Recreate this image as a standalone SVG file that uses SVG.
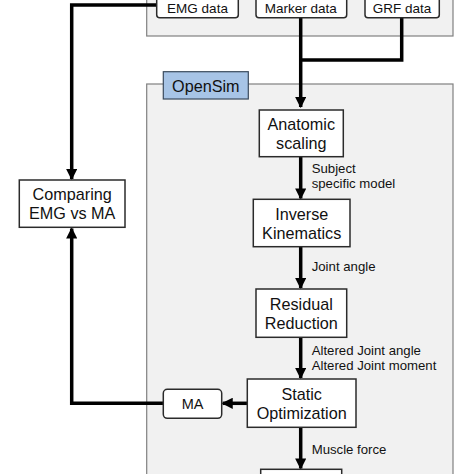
<svg xmlns="http://www.w3.org/2000/svg" width="474" height="474" viewBox="0 0 474 474">
<defs>
<style>
.cont{fill:#f1f1f1;stroke:#808080;stroke-width:1.2}
.box{fill:#ffffff;stroke:#2b2b2b;stroke-width:1.5}
.t{font-family:"Liberation Sans",Arial,sans-serif;font-size:16.2px;fill:#111;text-anchor:middle}
.d{font-family:"Liberation Sans",Arial,sans-serif;font-size:13.5px;fill:#111;text-anchor:middle}
.l{font-family:"Liberation Sans",Arial,sans-serif;font-size:13.2px;fill:#111}
.c{fill:none;stroke:#000;stroke-width:3.5}
</style>
<marker id="ah" viewBox="0 0 10 10" refX="9" refY="5" markerWidth="3.2" markerHeight="3.2" orient="auto" markerUnits="strokeWidth">
<path d="M0,0 L10,5 L0,10 z" fill="#000"/>
</marker>
</defs>
<rect width="474" height="474" fill="#fff"/>
<rect class="cont" x="146.7" y="-10" width="306.3" height="46"/>
<rect class="cont" x="146.7" y="84" width="306.3" height="400"/>
<g id="connectors">
<path class="c" d="M300.7,17.7 V107" marker-end="url(#ah)"/>
<path class="c" d="M401.7,17.7 V60 H300.7"/>
<path class="c" d="M156.7,5 H71.7 V179" marker-end="url(#ah)"/>
<path class="c" d="M163.3,403.3 H71.7 V228.5" marker-end="url(#ah)"/>
<path class="c" d="M300.7,156.7 V198.5" marker-end="url(#ah)"/>
<path class="c" d="M300.7,246.7 V288" marker-end="url(#ah)"/>
<path class="c" d="M300.7,337.3 V378" marker-end="url(#ah)"/>
<path class="c" d="M247.3,403.3 H222.7" marker-end="url(#ah)"/>
<path class="c" d="M300.7,427.3 V468.5" marker-end="url(#ah)"/>
<text class="l" x="311.7" y="173.3">Subject</text>
<text class="l" x="311.7" y="187.8">specific model</text>
<text class="l" x="311.7" y="270.5">Joint angle</text>
<text class="l" x="311.7" y="354.5">Altered Joint angle</text>
<text class="l" x="311.7" y="369.5">Altered Joint moment</text>
<text class="l" x="311.7" y="453.8">Muscle force</text>
</g>
<g id="emg"><rect class="box" x="156.7" y="-10" width="81.6" height="27.7" rx="3"/><text class="d" x="197.5" y="12.5">EMG data</text></g>
<g id="marker"><rect class="box" x="256" y="-10" width="90.7" height="27.7" rx="3"/><text class="d" x="300.7" y="12.5">Marker data</text></g>
<g id="grf"><rect class="box" x="365" y="-10" width="74.3" height="27.7" rx="3"/><text class="d" x="402.1" y="12.5">GRF data</text></g>
<g id="opensim"><rect x="163.3" y="71.7" width="85" height="27.3" fill="#a7c4e6" stroke="#3a4a5c" stroke-width="1.2"/><text class="t" x="205.8" y="91.5">OpenSim</text></g>
<g id="anatomic"><rect class="box" x="259.3" y="110" width="84" height="46.7"/><text class="t" x="301.3" y="129.5">Anatomic</text><text class="t" x="301.3" y="148.5">scaling</text></g>
<g id="inverse"><rect class="box" x="253.3" y="199.3" width="96.7" height="47.4"/><text class="t" x="301.7" y="219.5">Inverse</text><text class="t" x="301.7" y="238.5">Kinematics</text></g>
<g id="residual"><rect class="box" x="256" y="289" width="90.7" height="48.3"/><text class="t" x="301.3" y="309.5">Residual</text><text class="t" x="301.3" y="328.5">Reduction</text></g>
<g id="static"><rect class="box" x="247.3" y="379" width="108.7" height="48.3"/><text class="t" x="301.7" y="399.5">Static</text><text class="t" x="301.7" y="418.5">Optimization</text></g>
<g id="ma"><rect class="box" x="163.3" y="389.3" width="58.4" height="29" rx="4"/><text class="d" x="192.5" y="408.5" style="font-size:14.5px">MA</text></g>
<g id="comparing"><rect class="box" x="19.3" y="180" width="105.7" height="47.3"/><text class="t" x="72.2" y="200">Comparing</text><text class="t" x="72.2" y="219">EMG vs MA</text></g>
<g id="next"><rect class="box" x="260.7" y="469.3" width="81" height="20"/></g>
</svg>
